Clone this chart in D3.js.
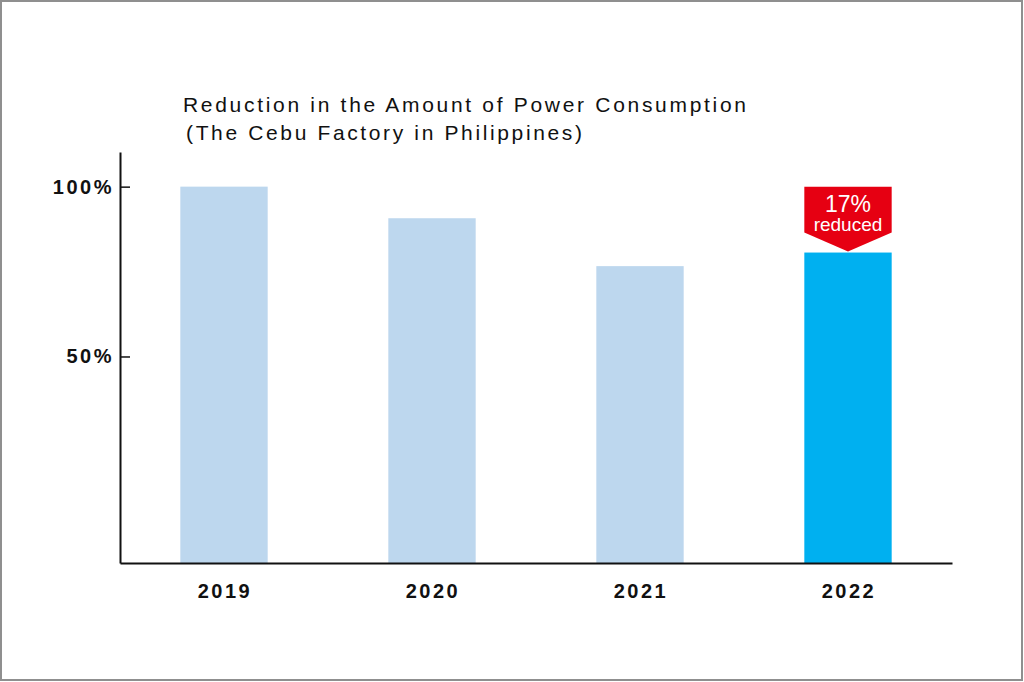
<!DOCTYPE html>
<html>
<head>
<meta charset="utf-8">
<script src="https://cdn.jsdelivr.net/npm/d3@7"></script>
<style>
    body { margin: 0; background: #fff; }
    text { font-family: "Liberation Sans", Arial, sans-serif; }
</style>
</head>
<body>
<svg id="chart"></svg>
<script>
// Data (share of 2019 power consumption, %)
const years = ['2019', '2020', '2021', '2022'];
const powerShare = [100, 90.7, 76.6, 80.6];
const yTickValues = [50, 100];
const highlightYear = '2022';
const calloutLines = ['17%', 'reduced'];
const titleLines = ['Reduction in the Amount of Power Consumption', '(The Cebu Factory in Philippines)'];

const data = years.map((year, i) => ({ year: year, value: powerShare[i] }));

const width = 1024;
const height = 682;
const margin = { top: 152, right: 73, bottom: 119, left: 120 };
const innerWidth = width - margin.left - margin.right;
const innerHeight = height - margin.top - margin.bottom;

const svg = d3.select('#chart')
    .attr('width', width)
    .attr('height', height);

// Grey frame around the whole picture
svg.append('rect')
    .attr('x', 1)
    .attr('y', 1)
    .attr('width', width - 3)
    .attr('height', height - 3)
    .attr('fill', '#fff')
    .attr('stroke', '#8f8f8f')
    .attr('stroke-width', 2);

const chart = svg.append('g')
    .attr('transform', `translate(${margin.left},${margin.top})`);

// Scales: the picture's axis does not start at zero, 100% and 50% sit at fixed heights
const xScale = d3.scaleBand()
    .domain(years)
    .range([0, innerWidth + 1])
    .paddingInner(0.58)
    .paddingOuter(0.29);

const yScale = d3.scaleLinear()
    .domain([-10.8, 110.2])
    .range([innerHeight, 0]);

// Bars
chart.selectAll('.bar')
    .data(data)
    .join('rect')
    .attr('class', 'bar')
    .attr('x', d => xScale(d.year))
    .attr('width', xScale.bandwidth())
    .attr('y', d => yScale(d.value))
    .attr('height', d => innerHeight - yScale(d.value))
    .attr('fill', d => d.year === highlightYear ? '#00b0f0' : '#bdd7ee');

// Red arrow-shaped callout over the highlighted bar
const hl = data.find(d => d.year === highlightYear);
const x0 = xScale(hl.year);
const x1 = x0 + xScale.bandwidth();
const tipY = yScale(hl.value) - 1;
const topY = yScale(100);

chart.append('polygon')
    .attr('points', [
        [x0, topY], [x1, topY], [x1, tipY - 19],
        [(x0 + x1) / 2, tipY], [x0, tipY - 19]
    ].map(p => p.join(',')).join(' '))
    .attr('fill', '#e60012');

chart.append('text')
    .attr('x', (x0 + x1) / 2)
    .attr('y', topY + 25.5)
    .attr('text-anchor', 'middle')
    .attr('fill', '#fff')
    .style('font-size', '23px')
    .text(calloutLines[0]);

chart.append('text')
    .attr('x', (x0 + x1) / 2)
    .attr('y', topY + 44.5)
    .attr('text-anchor', 'middle')
    .attr('fill', '#fff')
    .style('font-size', '19px')
    .text(calloutLines[1]);

// Axes
const yAxis = d3.axisLeft(yScale)
    .tickValues(yTickValues)
    .tickFormat(d => d + '%')
    .tickSizeInner(-10)
    .tickSizeOuter(0)
    .tickPadding(6);

const xAxis = d3.axisBottom(xScale)
    .tickSize(0)
    .tickPadding(21);

const yAxisG = chart.append('g')
    .attr('class', 'axis y-axis')
    .call(yAxis);

const xAxisG = chart.append('g')
    .attr('class', 'axis x-axis')
    .attr('transform', `translate(0,${innerHeight})`)
    .call(xAxis);

yAxisG.select('.domain').attr('stroke', '#111').attr('stroke-width', 2);
yAxisG.selectAll('.tick line').attr('stroke', '#111').attr('stroke-width', 1.5);
yAxisG.selectAll('.tick text')
    .attr('fill', '#111')
    .style('font-size', '20px')
    .style('font-weight', 'bold')
    .style('letter-spacing', '2.5px');

xAxisG.select('.domain').attr('stroke', '#111').attr('stroke-width', 2);
xAxisG.selectAll('.tick text')
    .attr('fill', '#111')
    .style('font-size', '20px')
    .style('font-weight', 'bold')
    .style('letter-spacing', '2.5px')
    .attr('dx', '1px');

// Title, two lines
const titleX = [183, 186];
const titleWidths = [563, 396];
svg.selectAll('.title')
    .data(titleLines)
    .join('text')
    .attr('class', 'title')
    .attr('x', (d, i) => titleX[i])
    .attr('y', (d, i) => 111.5 + i * 28.5)
    .attr('fill', '#111')
    .attr('textLength', (d, i) => titleWidths[i])
    .attr('lengthAdjust', 'spacing')
    .style('font-size', '21px')
    .text(d => d);
</script>
</body>
</html>
